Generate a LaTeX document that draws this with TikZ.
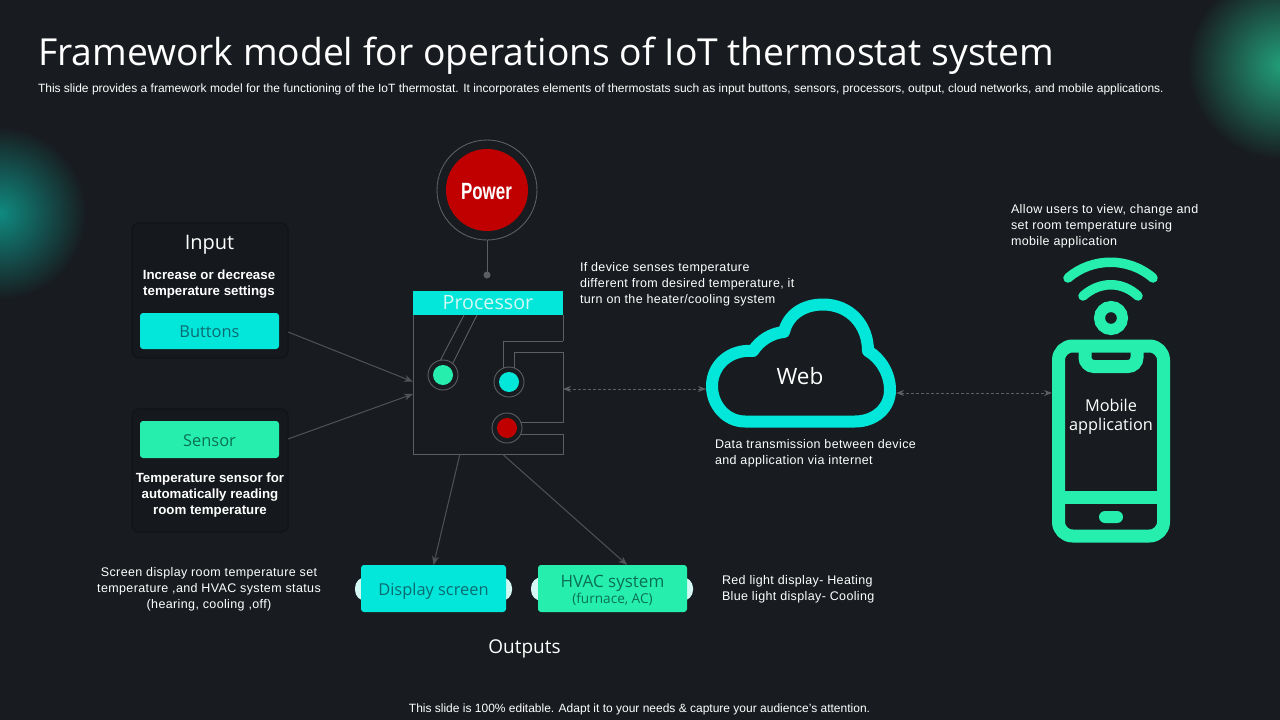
\documentclass[tikz,border=0pt]{standalone}
\usepackage{fontspec}
\setmainfont{Liberation Sans}
\newfontfamily\headfont{Open Sans}
\newfontfamily\powerfont[FakeStretch=0.72]{Liberation Sans}
\newfontfamily\blurbfont[LetterSpace=3]{Liberation Sans}
\usetikzlibrary{arrows.meta, positioning, calc}

\definecolor{slidebg}{HTML}{181C20}
\definecolor{cardbg}{HTML}{15181C}
\definecolor{aqua}{HTML}{03E6DA}
\definecolor{mint}{HTML}{26EFAE}
\definecolor{alarm}{HTML}{C00000}
\definecolor{wire}{HTML}{5C5F62}
\definecolor{flowwire}{HTML}{505356}
\definecolor{aquatext}{HTML}{0A6C72}
\definecolor{minttext}{HTML}{0A7053}
\definecolor{earfill}{HTML}{D4F8F4}
\definecolor{glowa}{HTML}{0F8A80}
\definecolor{glowb}{HTML}{22A07A}

\pgfdeclareradialshading{glowaqua}{\pgfpointorigin}{
  color(0bp)=(glowa); color(25bp)=(slidebg); color(50bp)=(slidebg)}
\pgfdeclareradialshading{glowmint}{\pgfpointorigin}{
  color(0bp)=(glowb); color(25bp)=(slidebg); color(50bp)=(slidebg)}

\tikzset{
  every node/.style={inner sep=0pt, outer sep=0pt, text=white},
  card/.style={fill=cardbg, draw=black!15!cardbg, line width=1.5pt, rounded corners=7pt, anchor=center},
  chip/.style={rounded corners=3pt, minimum width=#1, minimum height=36pt, text height=15pt, text depth=1.5pt},
  ear/.style={fill=earfill, rounded corners=11pt, minimum width=#1, minimum height=24pt},
  blurb/.style={font=\blurbfont\fontsize{12.5}{16}\selectfont, align=left},
  boldblurb/.style={font=\fontsize{13.3}{16}\selectfont\bfseries, align=center},
  head/.style={font=\headfont\fontsize{16.4}{20}\selectfont},
  flow/.style={draw=flowwire, line width=1pt, -{Stealth[length=9pt,width=7pt]}},
  datalink/.style={draw=wire, line width=0.8pt, dash pattern=on 3pt off 2pt, {Stealth[length=8pt,width=6pt]}-{Stealth[length=8pt,width=6pt]}},
  trace/.style={draw=wire, line width=0.9pt},
  led/.style={circle, minimum size=20pt},
  ledring/.style={circle, draw=wire, line width=0.9pt, minimum size=30pt},
  icon/.style={line width=#1, line cap=round, line join=round},
}

\begin{document}
\begin{tikzpicture}[x=1pt, y=-1pt, >=Stealth]

  \useasboundingbox (0,0) rectangle (1280,720);
  \clip (0,0) rectangle (1280,720);
  \fill[slidebg] (0,0) rectangle (1280,720);

  % Glows
  \shade[shading=glowaqua] (0,213) circle (86);
  \shade[shading=glowmint] (1282,65) circle (94);

  % Heading
  \node[anchor=west, font=\headfont\fontsize{37.25}{40}\selectfont] (title) at (38,56)
    {Framework model for operations of IoT thermostat system};
  \node[anchor=west, font=\fontsize{12}{14}\selectfont] (subtitle) at (38,89)
    {This slide provides a framework model for the functioning of the IoT thermostat. It incorporates elements of thermostats such as input buttons, sensors, processors, output, cloud networks, and mobile applications.};
  \node[font=\fontsize{12}{14}\selectfont] (footer) at (639.5,709)
    {This slide is 100\% editable. Adapt it to your needs \& capture your audience’s attention.};

  % Input cards
  \node[card, minimum width=156pt, minimum height=135pt] (inputcard) at (210,290.5) {};
  \node[card, minimum width=156pt, minimum height=123pt] (sensorcard) at (210,470.5) {};
  \node[font=\headfont\fontsize{20}{24}\selectfont] (input) at (209.5,244.5) {Input};
  \node[boldblurb] (inputtext) at (209,284) {Increase or decrease\\temperature settings};
  \node[chip=139pt, fill=aqua, text=aquatext, head] (buttons) at (209.5,331) {Buttons};
  \node[chip=139pt, fill=mint, text=minttext, head, minimum height=37pt] (sensor) at (209.5,439.5) {Sensor};
  \node[boldblurb] (sensortext) at (210,495) {Temperature sensor for\\automatically reading\\room temperature};

  % Power
  \node[circle, draw=wire, line width=0.9pt, minimum size=100pt] (powerring) at (487,190) {};
  \node[circle, fill=alarm, minimum size=82pt] (power) at (487,190) {};
  \node[font=\powerfont\fontsize{23.5}{26}\selectfont\bfseries] (powerlabel) at (486.5,192) {Power};
  \node[circle, fill=wire, minimum size=7pt] (powerdot) at (487,275) {};
  \draw[trace] (powerring.south) -- (powerdot);

  % Processor
  \node[minimum width=150pt, minimum height=163pt] (procbox) at (488,372.5) {};
  \node[fill=aqua, minimum width=150pt, minimum height=24pt, font=\headfont\fontsize{19.7}{20}\selectfont, text=earfill] (processor) at (488,303) {Processor};
  \draw[trace] (413,315) -- (413,454) -- (563,454) -- (563,434.3);
  \draw[trace] (563,422.9) -- (563,352);
  \draw[trace] (563,341) -- (563,315);

  \node[ledring] (greenring) at (443,375) {};
  \node[led, fill=mint] (greenled) at (443,375) {};
  \node[ledring] (aquaring) at (509,382) {};
  \node[led, fill=aqua] (aqualed) at (509,382) {};
  \node[ledring] (redring) at (507,428) {};
  \node[led, fill=alarm] (redled) at (507,428) {};
  \draw[trace] (greenring.100) -- (464,315);
  \draw[trace] (greenring.50) -- (477,315);
  \draw[trace] (aquaring.110) |- (563,341);
  \draw[trace] (aquaring.70) |- (563,352);
  \draw[trace] (redring.20) -- (procbox.east |- redring.20);
  \draw[trace] (redring.-25) -- (procbox.east |- redring.-25);
  \node[blurb] (proctext) [anchor=north west] at (580,262.5)
    {If device senses temperature\\different from desired temperature, it\\turn on the heater/cooling system};

  % Outputs
  \node[ear=157pt] (displayear) at (433.5,589) {};
  \node[ear=162pt] (hvacear) at (612,589) {};
  \node[chip=145pt, minimum height=47pt, fill=aqua, text=aquatext, head] (display) at (433.5,588.5) {Display screen};
  \node[chip=149pt, minimum height=47pt, fill=mint] (hvac) at (612.5,588.5) {};
  \node[text=minttext, align=center, font=\headfont\fontsize{17}{17}\selectfont] (hvaclabel) at (612.5,590)
    {HVAC system\\[-1pt]{\fontsize{13.6}{14}\selectfont (furnace, AC)}};
  \node[font=\blurbfont\fontsize{12.5}{16}\selectfont, align=center] (displaytext) at (209,589.5)
    {Screen display room temperature set\\temperature ,and HVAC system status\\(hearing, cooling ,off)};
  \node[blurb] (hvactext) [anchor=west] at (722,589.5) {Red light display- Heating\\Blue light display- Cooling};
  \node[font=\headfont\fontsize{19}{22}\selectfont] (outputs) at (524.5,649) {Outputs};

  % Web
  \draw[aqua, icon=12pt] (745,421.5) -- (855,421.5)
    .. controls (875,421.5) and (890,408) .. (890,390)
    .. controls (890,373) and (880,358) .. (868,351)
    .. controls (868,325) and (850,304.5) .. (823,304.5)
    .. controls (803,304.5) and (788,315) .. (784,332)
    .. controls (772,333) and (760,340) .. (753,351)
    .. controls (730,349) and (712,365) .. (712,386)
    .. controls (712,405) and (726,421.5) .. (745,421.5) -- cycle;
  \node[font=\headfont\fontsize{22.5}{24}\selectfont] (web) at (800,376) {Web};
  \coordinate (webwest) at (706,389);
  \coordinate (webeast) at (896,393);
  \node[blurb] (webtext) [anchor=north west] at (715,439) {Data transmission between device\\and application via internet};

  % Mobile
  \draw[mint, icon=13pt, rounded corners=14pt] (1058.5,346) rectangle (1163.5,536);
  \draw[mint, line width=13pt] (1058.5,497.5) -- (1163.5,497.5);
  \draw[mint, line width=13pt, rounded corners=9pt] (1085,346) -- (1085,366.5) -- (1137,366.5) -- (1137,346);
  \node[fill=mint, rounded corners=6pt, minimum width=24pt, minimum height=12pt] (homekey) at (1111,517) {};
  \draw[mint, line width=11pt] (1111,318) circle (11.5);
  \draw[mint, icon=9.5pt] (1068,278) .. controls (1092,257) and (1129,257) .. (1153,278);
  \draw[mint, icon=9.5pt] (1083,296) .. controls (1100,281) and (1122,281) .. (1138,296);
  \node[font=\headfont\fontsize{16.3}{19}\selectfont, align=center] (mobile) at (1111,416.5) {Mobile\\application};
  \coordinate (mobilewest) at (1052,393);
  \node[blurb] (mobiletext) [anchor=north west] at (1011,204)
    {Allow users to view, change and\\set room temperature using\\mobile application};

  % Edges
  \draw[flow] (inputcard.-28) -- (procbox.187);
  \draw[flow] (sensorcard.22) -- (procbox.196);
  \draw[flow] (procbox.251) -- (display.north);
  \draw[flow] (procbox.280) -- (hvac.58);
  \draw[datalink] (procbox.east |- webwest) -- (webwest);
  \draw[datalink] (webeast) -- (mobilewest);

\end{tikzpicture}
\end{document}
